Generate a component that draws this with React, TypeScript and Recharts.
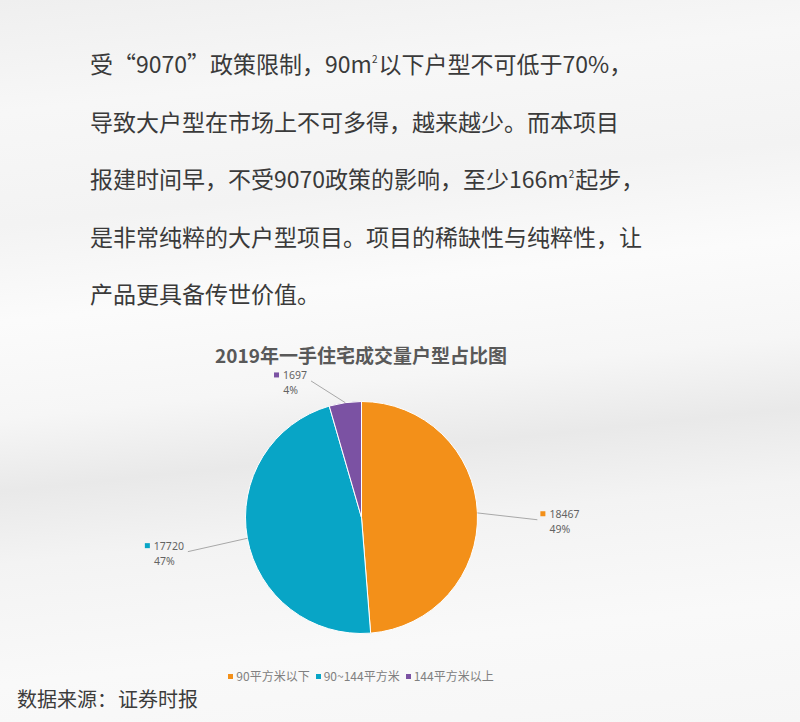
import React from 'react';
import { PieChart, Pie, Cell, Legend } from 'recharts';

const categories = ['90平方米以下', '90~144平方米', '144平方米以上'];
const values = [18467, 17720, 1697];
const colors = ['#F39019', '#08A5C6', '#7B52A3'];
const chartTitle = '2019年一手住宅成交量户型占比图';
const paragraphLines = [
  '受“9070”政策限制，90m²以下户型不可低于70%，',
  '导致大户型在市场上不可多得，越来越少。而本项目',
  '报建时间早，不受9070政策的影响，至少166m²起步，',
  '是非常纯粹的大户型项目。项目的稀缺性与纯粹性，让',
  '产品更具备传世价值。',
];
const sourceLabel = '数据来源：';
const sourceName = '证券时报';

const data = categories.map((name, i) => ({ name, value: values[i] }));

const RAD = Math.PI / 180;
const LABEL_FONT = '"Noto Sans", "DejaVu Sans", sans-serif';

const renderLabel = (props: any) => {
  const { cx, cy, midAngle, outerRadius, percent, value, index } = props;
  const cos = Math.cos(-midAngle * RAD);
  const sin = Math.sin(-midAngle * RAD);
  const sx = cx + outerRadius * cos;
  const sy = cy + outerRadius * sin;
  const right = cos >= 0;
  const ex = cx + (outerRadius + 30) * cos + (right ? 30 : -30);
  const ey = cy + (outerRadius + 30) * sin + 8;
  const txt = String(value);
  const w = txt.length * 6;
  const color = colors[index % colors.length];
  let markerX: number;
  let numX: number;
  let pctX: number;
  if (right) {
    markerX = ex + 3;
    numX = ex + 12;
    pctX = ex + 7.5 + w / 2;
  } else {
    numX = ex - 4 - w;
    markerX = numX - 9;
    pctX = ex - 8.5 - w / 2;
  }
  return (
    <g>
      <line x1={sx} y1={sy} x2={ex} y2={ey} stroke="#a8a8a8" strokeWidth={1} />
      <rect x={markerX} y={ey - 8.5} width={5} height={5} fill={color} />
      <text
        x={numX}
        y={ey - 6}
        fill="#636363"
        fontSize={10.5}
        fontFamily={LABEL_FONT}
        textAnchor="start"
        dominantBaseline="central"
      >
        {txt}
      </text>
      <text
        x={pctX}
        y={ey + 9}
        fill="#636363"
        fontSize={10.5}
        fontFamily={LABEL_FONT}
        textAnchor="middle"
        dominantBaseline="central"
      >
        {Math.round(percent * 100) + '%'}
      </text>
    </g>
  );
};

const renderLegend = (props: any) => {
  const payload = [...(props.payload || [])].sort(
    (a: any, b: any) => categories.indexOf(a.value) - categories.indexOf(b.value)
  );
  return (
    <div style={{ display: 'flex', justifyContent: 'center', alignItems: 'center' }}>
      {payload.map((p: any, i: number) => (
        <div key={i} style={{ display: 'flex', alignItems: 'center', marginRight: i < payload.length - 1 ? 6 : 0 }}>
          <span style={{ display: 'inline-block', width: 5, height: 5, background: p.color, marginRight: 3 }} />
          <span style={{ fontSize: 12, color: '#808080', fontFamily: '"Noto Sans CJK SC", sans-serif', lineHeight: '14px' }}>
            {p.value}
          </span>
        </div>
      ))}
    </div>
  );
};

const renderLine = (line: string) => {
  const parts = line.split('²');
  const out: React.ReactNode[] = [];
  parts.forEach((p, i) => {
    out.push(<span key={'t' + i}>{p}</span>);
    if (i < parts.length - 1) {
      out.push(
        <span
          key={'s' + i}
          style={{ fontSize: 10, position: 'relative', top: -10, marginRight: 1, lineHeight: 0, verticalAlign: 'baseline' }}
        >
          2
        </span>
      );
    }
  });
  return out;
};

const LINE_TOP = 35;
const LINE_STEP = 57.5;

export default function App() {
  return (
    <div
      style={{
        position: 'absolute',
        left: 0,
        top: 0,
        width: 800,
        height: 722,
        overflow: 'hidden',
        background:
          'linear-gradient(174deg, #efefef 0%, #f7f7f7 14%, #f3f3f3 28%, #fbfbfb 40%, #f6f6f6 52%, #e9e9e9 61%, #f3f3f3 70%, #f9f9f9 85%, #f6f6f6 100%)',
      }}
    >
      {paragraphLines.map((l, i) => (
        <div
          key={i}
          style={{
            position: 'absolute',
            left: 90,
            top: LINE_TOP + i * LINE_STEP,
            height: 56,
            fontFamily: '"Noto Sans CJK SC", sans-serif',
            fontSize: 23,
            lineHeight: '56px',
            color: '#3a3a3a',
            whiteSpace: 'nowrap',
          }}
        >
          {renderLine(l)}
        </div>
      ))}
      <div
        style={{
          position: 'absolute',
          left: 0,
          width: 722,
          top: 342,
          textAlign: 'center',
          fontFamily: '"Noto Sans CJK SC", sans-serif',
          fontWeight: 700,
          fontSize: 19,
          lineHeight: '26px',
          color: '#595959',
        }}
      >
        {chartTitle}
      </div>
      <div style={{ position: 'absolute', left: 0, top: 0 }}>
        <PieChart width={800} height={722} margin={{ top: 0, right: 0, bottom: 0, left: 0 }}>
          <Pie
            data={data}
            dataKey="value"
            nameKey="name"
            cx={361.5}
            cy={517.5}
            outerRadius={116}
            startAngle={90}
            endAngle={-270}
            stroke="#ffffff"
            strokeWidth={1}
            label={renderLabel}
            labelLine={false}
            isAnimationActive={false}
          >
            {data.map((d, i) => (
              <Cell key={d.name} fill={colors[i]} />
            ))}
          </Pie>
          <Legend
            verticalAlign="bottom"
            align="left"
            content={renderLegend}
            wrapperStyle={{ top: 669, bottom: 'auto', left: -78, width: 878 }}
          />
        </PieChart>
      </div>
      <div
        style={{
          position: 'absolute',
          left: 17,
          top: 685,
          fontFamily: '"Noto Sans CJK SC", sans-serif',
          fontSize: 20,
          lineHeight: '28px',
          color: '#3c3c3c',
          whiteSpace: 'nowrap',
        }}
      >
        <span>{sourceLabel}</span>
        <span style={{ marginLeft: 1 }}>{sourceName}</span>
      </div>
    </div>
  );
}
